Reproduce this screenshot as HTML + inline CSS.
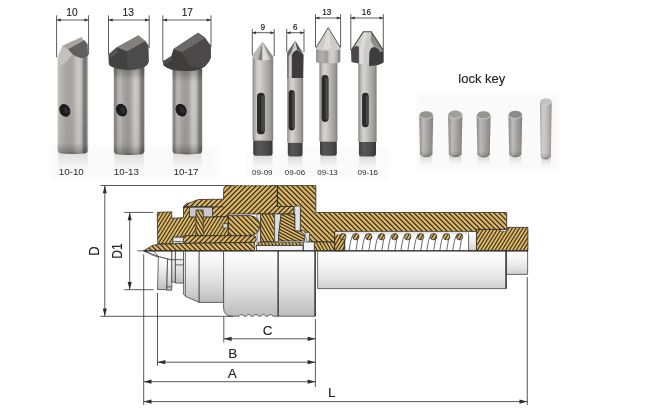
<!DOCTYPE html>
<html lang="en"><head><meta charset="utf-8"><title>Live center interchangeable points - dimensions</title>
<style>html,body{margin:0;padding:0;background:#fff;}body{width:650px;height:409px;overflow:hidden;}svg{display:block;will-change:transform;}text{font-family:"Liberation Sans", Arial, Helvetica, sans-serif;}</style>
</head><body>
<svg width="650" height="409" viewBox="0 0 650 409">
<defs>
<linearGradient id="steel" x1="0" x2="1" y1="0" y2="0" ><stop offset="0" stop-color="#8a8887"/><stop offset="0.08" stop-color="#8e8c8b"/><stop offset="0.13" stop-color="#b0aeac"/><stop offset="0.22" stop-color="#b9b7b5"/><stop offset="0.3" stop-color="#a8a6a4"/><stop offset="0.45" stop-color="#9c9a99"/><stop offset="0.56" stop-color="#a7a5a3"/><stop offset="0.64" stop-color="#c4c1bd"/><stop offset="0.72" stop-color="#cdc9c4"/><stop offset="0.8" stop-color="#c0bdb9"/><stop offset="0.86" stop-color="#9a9896"/><stop offset="0.91" stop-color="#7c7a78"/><stop offset="0.97" stop-color="#787675"/><stop offset="1" stop-color="#8f8d8c"/></linearGradient>
<linearGradient id="steelA" x1="0" x2="1" y1="0" y2="0" ><stop offset="0" stop-color="#c9c4c0"/><stop offset="0.1" stop-color="#bab5b1"/><stop offset="0.3" stop-color="#a6a3a1"/><stop offset="0.48" stop-color="#a8a6a4"/><stop offset="0.58" stop-color="#bcbab7"/><stop offset="0.68" stop-color="#cdcbc7"/><stop offset="0.78" stop-color="#bdbbb8"/><stop offset="0.84" stop-color="#858280"/><stop offset="0.92" stop-color="#6f6c6a"/><stop offset="0.96" stop-color="#a09e9c"/><stop offset="1" stop-color="#cfcdcb"/></linearGradient>
<linearGradient id="steel2" x1="0" x2="1" y1="0" y2="0" ><stop offset="0" stop-color="#848382"/><stop offset="0.07" stop-color="#9e9d9c"/><stop offset="0.18" stop-color="#c6c5c4"/><stop offset="0.33" stop-color="#d4d3d2"/><stop offset="0.5" stop-color="#c2c1c0"/><stop offset="0.68" stop-color="#adacab"/><stop offset="0.84" stop-color="#9e9d9c"/><stop offset="0.94" stop-color="#8a8988"/><stop offset="1" stop-color="#7e7d7c"/></linearGradient>
<linearGradient id="steelh" x1="0" x2="1" y1="0" y2="0" ><stop offset="0" stop-color="#7e7d7c"/><stop offset="0.07" stop-color="#a3a2a1"/><stop offset="0.28" stop-color="#b0afae"/><stop offset="0.45" stop-color="#9a9998"/><stop offset="0.55" stop-color="#c9c8c7"/><stop offset="0.7" stop-color="#d0cfce"/><stop offset="0.85" stop-color="#b5b4b3"/><stop offset="0.95" stop-color="#868584"/><stop offset="1" stop-color="#7c7b7a"/></linearGradient>
<linearGradient id="dark" x1="0" x2="1" y1="0" y2="0" ><stop offset="0" stop-color="#3c3c3c"/><stop offset="0.25" stop-color="#565656"/><stop offset="0.7" stop-color="#4c4c4c"/><stop offset="1" stop-color="#363636"/></linearGradient>
<linearGradient id="pin" x1="0" x2="1" y1="0" y2="0" ><stop offset="0" stop-color="#858381"/><stop offset="0.1" stop-color="#9f9d9b"/><stop offset="0.3" stop-color="#bdbbb9"/><stop offset="0.5" stop-color="#adaba9"/><stop offset="0.75" stop-color="#999795"/><stop offset="0.92" stop-color="#8c8a88"/><stop offset="1" stop-color="#7e7c7a"/></linearGradient>
<linearGradient id="pin5" x1="0" x2="1" y1="0" y2="0" ><stop offset="0" stop-color="#9c9a98"/><stop offset="0.2" stop-color="#cfcdcb"/><stop offset="0.5" stop-color="#c6c4c2"/><stop offset="0.8" stop-color="#adaba9"/><stop offset="1" stop-color="#908e8c"/></linearGradient>
<linearGradient id="refl" x1="0" x2="0" y1="0" y2="1" ><stop offset="0" stop-color="#d6d6d6" stop-opacity="0.95"/><stop offset="0.45" stop-color="#e6e6e6" stop-opacity="0.6"/><stop offset="1" stop-color="#ffffff" stop-opacity="0"/></linearGradient>
<linearGradient id="shade" x1="0" x2="0" y1="0" y2="1" ><stop offset="0" stop-color="#000" stop-opacity="0"/><stop offset="0.8" stop-color="#000" stop-opacity="0.04"/><stop offset="0.95" stop-color="#000" stop-opacity="0.25"/><stop offset="1" stop-color="#000" stop-opacity="0.4"/></linearGradient>
<linearGradient id="pshade" x1="0" x2="0" y1="0" y2="1" ><stop offset="0" stop-color="#000" stop-opacity="0"/><stop offset="0.6" stop-color="#000" stop-opacity="0.1"/><stop offset="1" stop-color="#000" stop-opacity="0.35"/></linearGradient>
<linearGradient id="topsh" x1="0" x2="0" y1="0" y2="1" ><stop offset="0" stop-color="#000" stop-opacity="0.28"/><stop offset="1" stop-color="#000" stop-opacity="0"/></linearGradient>
<linearGradient id="bodyg" x1="0" x2="0" y1="0" y2="1" ><stop offset="0" stop-color="#ffffff"/><stop offset="0.25" stop-color="#f5f4f5"/><stop offset="0.55" stop-color="#e3e2e3"/><stop offset="0.8" stop-color="#cfcecf"/><stop offset="1" stop-color="#bdbcbd"/></linearGradient>
<linearGradient id="shaftg" x1="0" x2="0" y1="0" y2="1" ><stop offset="0" stop-color="#ffffff"/><stop offset="0.3" stop-color="#f8f7f8"/><stop offset="0.7" stop-color="#e6e5e6"/><stop offset="1" stop-color="#cfcecf"/></linearGradient>
<pattern id="h1" patternUnits="userSpaceOnUse" x="140" y="182" width="392" height="72"><rect width="392" height="72" fill="#dcb763"/><path d="M-77,72L-5,0M-72,72L0,0M-67,72L5,0M-62,72L10,0M-57,72L15,0M-52,72L20,0M-47,72L25,0M-42,72L30,0M-37,72L35,0M-32,72L40,0M-27,72L45,0M-22,72L50,0M-17,72L55,0M-12,72L60,0M-7,72L65,0M-2,72L70,0M3,72L75,0M8,72L80,0M13,72L85,0M18,72L90,0M23,72L95,0M28,72L100,0M33,72L105,0M38,72L110,0M43,72L115,0M48,72L120,0M53,72L125,0M58,72L130,0M63,72L135,0M68,72L140,0M73,72L145,0M78,72L150,0M83,72L155,0M88,72L160,0M93,72L165,0M98,72L170,0M103,72L175,0M108,72L180,0M113,72L185,0M118,72L190,0M123,72L195,0M128,72L200,0M133,72L205,0M138,72L210,0M143,72L215,0M148,72L220,0M153,72L225,0M158,72L230,0M163,72L235,0M168,72L240,0M173,72L245,0M178,72L250,0M183,72L255,0M188,72L260,0M193,72L265,0M198,72L270,0M203,72L275,0M208,72L280,0M213,72L285,0M218,72L290,0M223,72L295,0M228,72L300,0M233,72L305,0M238,72L310,0M243,72L315,0M248,72L320,0M253,72L325,0M258,72L330,0M263,72L335,0M268,72L340,0M273,72L345,0M278,72L350,0M283,72L355,0M288,72L360,0M293,72L365,0M298,72L370,0M303,72L375,0M308,72L380,0M313,72L385,0M318,72L390,0M323,72L395,0M328,72L400,0M333,72L405,0M338,72L410,0M343,72L415,0M348,72L420,0M353,72L425,0M358,72L430,0M363,72L435,0M368,72L440,0M373,72L445,0M378,72L450,0M383,72L455,0M388,72L460,0M393,72L465,0M398,72L470,0M403,72L475,0M408,72L480,0M413,72L485,0M418,72L490,0M423,72L495,0M428,72L500,0M433,72L505,0M438,72L510,0M443,72L515,0M448,72L520,0M453,72L525,0M458,72L530,0M463,72L535,0M468,72L540,0" stroke="#33291a" stroke-width="1.15" fill="none"/></pattern>
<pattern id="h2" patternUnits="userSpaceOnUse" x="140" y="182" width="392" height="72"><rect width="392" height="72" fill="#dcb763"/><path d="M-77,0L-5,72M-72,0L0,72M-67,0L5,72M-62,0L10,72M-57,0L15,72M-52,0L20,72M-47,0L25,72M-42,0L30,72M-37,0L35,72M-32,0L40,72M-27,0L45,72M-22,0L50,72M-17,0L55,72M-12,0L60,72M-7,0L65,72M-2,0L70,72M3,0L75,72M8,0L80,72M13,0L85,72M18,0L90,72M23,0L95,72M28,0L100,72M33,0L105,72M38,0L110,72M43,0L115,72M48,0L120,72M53,0L125,72M58,0L130,72M63,0L135,72M68,0L140,72M73,0L145,72M78,0L150,72M83,0L155,72M88,0L160,72M93,0L165,72M98,0L170,72M103,0L175,72M108,0L180,72M113,0L185,72M118,0L190,72M123,0L195,72M128,0L200,72M133,0L205,72M138,0L210,72M143,0L215,72M148,0L220,72M153,0L225,72M158,0L230,72M163,0L235,72M168,0L240,72M173,0L245,72M178,0L250,72M183,0L255,72M188,0L260,72M193,0L265,72M198,0L270,72M203,0L275,72M208,0L280,72M213,0L285,72M218,0L290,72M223,0L295,72M228,0L300,72M233,0L305,72M238,0L310,72M243,0L315,72M248,0L320,72M253,0L325,72M258,0L330,72M263,0L335,72M268,0L340,72M273,0L345,72M278,0L350,72M283,0L355,72M288,0L360,72M293,0L365,72M298,0L370,72M303,0L375,72M308,0L380,72M313,0L385,72M318,0L390,72M323,0L395,72M328,0L400,72M333,0L405,72M338,0L410,72M343,0L415,72M348,0L420,72M353,0L425,72M358,0L430,72M363,0L435,72M368,0L440,72M373,0L445,72M378,0L450,72M383,0L455,72M388,0L460,72M393,0L465,72M398,0L470,72M403,0L475,72M408,0L480,72M413,0L485,72M418,0L490,72M423,0L495,72M428,0L500,72M433,0L505,72M438,0L510,72M443,0L515,72M448,0L520,72M453,0L525,72M458,0L530,72M463,0L535,72M468,0L540,72" stroke="#33291a" stroke-width="1.15" fill="none"/></pattern>
<pattern id="h3" patternUnits="userSpaceOnUse" x="140" y="182" width="392" height="72"><rect width="392" height="72" fill="#dcb763"/><path d="M-48.5,72L-3.5,0M-45,72L0,0M-41.4,72L3.5,0M-37.9,72L7.1,0M-34.3,72L10.6,0M-30.8,72L14.2,0M-27.2,72L17.7,0M-23.7,72L21.3,0M-20.1,72L24.8,0M-16.6,72L28.4,0M-13,72L31.9,0M-9.5,72L35.5,0M-5.9,72L39,0M-2.4,72L42.6,0M1.2,72L46.1,0M4.7,72L49.7,0M8.3,72L53.2,0M11.8,72L56.8,0M15.4,72L60.3,0M18.9,72L63.9,0M22.5,72L67.5,0M26,72L71,0M29.6,72L74.5,0M33.1,72L78.1,0M36.7,72L81.7,0M40.2,72L85.2,0M43.8,72L88.8,0M47.3,72L92.3,0M50.9,72L95.8,0M54.4,72L99.4,0M58,72L102.9,0M61.5,72L106.5,0M65.1,72L110,0M68.6,72L113.6,0M72.2,72L117.1,0M75.7,72L120.7,0M79.3,72L124.2,0M82.8,72L127.8,0M86.4,72L131.3,0M89.9,72L134.9,0M93.5,72L138.4,0M97,72L142,0M100.6,72L145.5,0M104.1,72L149.1,0M107.7,72L152.6,0M111.2,72L156.2,0M114.8,72L159.7,0M118.3,72L163.3,0M121.9,72L166.8,0M125.4,72L170.4,0M129,72L173.9,0M132.5,72L177.5,0M136.1,72L181,0M139.6,72L184.6,0M143.2,72L188.1,0M146.7,72L191.7,0M150.3,72L195.2,0M153.8,72L198.8,0M157.4,72L202.4,0M160.9,72L205.9,0M164.5,72L209.5,0M168,72L213,0M171.6,72L216.6,0M175.1,72L220.1,0M178.7,72L223.7,0M182.2,72L227.2,0M185.8,72L230.8,0M189.3,72L234.3,0M192.9,72L237.9,0M196.4,72L241.4,0M200,72L245,0M203.5,72L248.5,0M207.1,72L252.1,0M210.6,72L255.6,0M214.2,72L259.2,0M217.7,72L262.7,0M221.3,72L266.3,0M224.8,72L269.8,0M228.4,72L273.4,0M231.9,72L276.9,0M235.5,72L280.5,0M239,72L284,0M242.6,72L287.6,0M246.1,72L291.1,0M249.7,72L294.7,0M253.2,72L298.2,0M256.8,72L301.8,0M260.3,72L305.3,0M263.9,72L308.9,0M267.4,72L312.4,0M271,72L316,0M274.5,72L319.5,0M278.1,72L323.1,0M281.6,72L326.6,0M285.2,72L330.2,0M288.7,72L333.7,0M292.3,72L337.3,0M295.8,72L340.8,0M299.4,72L344.4,0M302.9,72L347.9,0M306.5,72L351.5,0M310,72L355,0M313.6,72L358.6,0M317.1,72L362.1,0M320.7,72L365.7,0M324.2,72L369.2,0M327.8,72L372.8,0M331.3,72L376.3,0M334.9,72L379.9,0M338.4,72L383.4,0M342,72L387,0M345.5,72L390.5,0M349.1,72L394.1,0M352.6,72L397.6,0M356.2,72L401.2,0M359.7,72L404.7,0M363.3,72L408.3,0M366.8,72L411.8,0M370.4,72L415.4,0M373.9,72L418.9,0M377.5,72L422.5,0M381,72L426,0M384.6,72L429.6,0M388.1,72L433.1,0M391.7,72L436.7,0M395.2,72L440.2,0M398.8,72L443.8,0M402.3,72L447.3,0M405.9,72L450.9,0M409.4,72L454.4,0M413,72L458,0M416.5,72L461.5,0M420.1,72L465.1,0M423.6,72L468.6,0M427.2,72L472.2,0M430.7,72L475.7,0M434.3,72L479.3,0M437.8,72L482.8,0" stroke="#33291a" stroke-width="1.05" fill="none"/></pattern>
<pattern id="h4" patternUnits="userSpaceOnUse" x="140" y="182" width="392" height="72"><rect width="392" height="72" fill="#dcb763"/><path d="M-45,0L-3.5,72M-41.6,0L0,72M-38.1,0L3.5,72M-34.7,0L6.9,72M-31.2,0L10.4,72M-27.8,0L13.8,72M-24.3,0L17.3,72M-20.9,0L20.7,72M-17.4,0L24.2,72M-14,0L27.6,72M-10.5,0L31.1,72M-7.1,0L34.5,72M-3.6,0L38,72M-0.2,0L41.4,72M3.3,0L44.9,72M6.7,0L48.3,72M10.2,0L51.8,72M13.6,0L55.2,72M17.1,0L58.7,72M20.5,0L62.1,72M24,0L65.5,72M27.4,0L69,72M30.9,0L72.5,72M34.3,0L75.9,72M37.8,0L79.3,72M41.2,0L82.8,72M44.7,0L86.2,72M48.1,0L89.7,72M51.6,0L93.2,72M55,0L96.6,72M58.5,0L100.1,72M61.9,0L103.5,72M65.4,0L107,72M68.8,0L110.4,72M72.3,0L113.9,72M75.7,0L117.3,72M79.2,0L120.8,72M82.6,0L124.2,72M86.1,0L127.7,72M89.5,0L131.1,72M93,0L134.6,72M96.4,0L138,72M99.9,0L141.5,72M103.3,0L144.9,72M106.8,0L148.4,72M110.2,0L151.8,72M113.7,0L155.3,72M117.1,0L158.7,72M120.6,0L162.2,72M124,0L165.6,72M127.5,0L169.1,72M130.9,0L172.5,72M134.4,0L176,72M137.8,0L179.4,72M141.3,0L182.9,72M144.7,0L186.3,72M148.2,0L189.8,72M151.6,0L193.2,72M155.1,0L196.6,72M158.5,0L200.1,72M162,0L203.5,72M165.4,0L207,72M168.9,0L210.4,72M172.3,0L213.9,72M175.8,0L217.3,72M179.2,0L220.8,72M182.7,0L224.2,72M186.1,0L227.7,72M189.6,0L231.1,72M193,0L234.6,72M196.5,0L238,72M199.9,0L241.5,72M203.4,0L244.9,72M206.8,0L248.4,72M210.3,0L251.8,72M213.7,0L255.3,72M217.2,0L258.7,72M220.6,0L262.2,72M224.1,0L265.6,72M227.5,0L269.1,72M231,0L272.5,72M234.4,0L276,72M237.9,0L279.4,72M241.3,0L282.9,72M244.8,0L286.3,72M248.2,0L289.8,72M251.7,0L293.2,72M255.1,0L296.7,72M258.6,0L300.1,72M262,0L303.6,72M265.5,0L307,72M268.9,0L310.5,72M272.4,0L313.9,72M275.8,0L317.4,72M279.3,0L320.8,72M282.7,0L324.3,72M286.2,0L327.7,72M289.6,0L331.2,72M293.1,0L334.6,72M296.5,0L338.1,72M300,0L341.5,72M303.4,0L345,72M306.9,0L348.4,72M310.3,0L351.9,72M313.8,0L355.3,72M317.2,0L358.8,72M320.7,0L362.2,72M324.1,0L365.7,72M327.6,0L369.1,72M331,0L372.6,72M334.5,0L376,72M337.9,0L379.5,72M341.4,0L382.9,72M344.8,0L386.4,72M348.3,0L389.8,72M351.7,0L393.3,72M355.2,0L396.7,72M358.6,0L400.2,72M362.1,0L403.6,72M365.5,0L407.1,72M369,0L410.5,72M372.4,0L414,72M375.9,0L417.4,72M379.3,0L420.9,72M382.8,0L424.3,72M386.2,0L427.8,72M389.7,0L431.2,72M393.1,0L434.7,72M396.6,0L438.1,72M400,0L441.6,72M403.5,0L445,72M406.9,0L448.5,72M410.4,0L451.9,72M413.8,0L455.4,72M417.3,0L458.8,72M420.7,0L462.3,72M424.2,0L465.7,72M427.6,0L469.2,72M431.1,0L472.6,72M434.5,0L476.1,72" stroke="#33291a" stroke-width="1.05" fill="none"/></pattern>
<pattern id="h5" patternUnits="userSpaceOnUse" x="140" y="182" width="392" height="72"><rect width="392" height="72" fill="#dcb763"/><path d="M-141.4,0L-6,72M-135.4,0L0,72M-129.4,0L6,72M-123.4,0L12,72M-117.4,0L18,72M-111.4,0L24,72M-105.4,0L30,72M-99.4,0L36,72M-93.4,0L42,72M-87.4,0L48,72M-81.4,0L54,72M-75.4,0L60,72M-69.4,0L66,72M-63.4,0L72,72M-57.4,0L78,72M-51.4,0L84,72M-45.4,0L90,72M-39.4,0L96,72M-33.4,0L102,72M-27.4,0L108,72M-21.4,0L114,72M-15.4,0L120,72M-9.4,0L126,72M-3.4,0L132,72M2.6,0L138,72M8.6,0L144,72M14.6,0L150,72M20.6,0L156,72M26.6,0L162,72M32.6,0L168,72M38.6,0L174,72M44.6,0L180,72M50.6,0L186,72M56.6,0L192,72M62.6,0L198,72M68.6,0L204,72M74.6,0L210,72M80.6,0L216,72M86.6,0L222,72M92.6,0L228,72M98.6,0L234,72M104.6,0L240,72M110.6,0L246,72M116.6,0L252,72M122.6,0L258,72M128.6,0L264,72M134.6,0L270,72M140.6,0L276,72M146.6,0L282,72M152.6,0L288,72M158.6,0L294,72M164.6,0L300,72M170.6,0L306,72M176.6,0L312,72M182.6,0L318,72M188.6,0L324,72M194.6,0L330,72M200.6,0L336,72M206.6,0L342,72M212.6,0L348,72M218.6,0L354,72M224.6,0L360,72M230.6,0L366,72M236.6,0L372,72M242.6,0L378,72M248.6,0L384,72M254.6,0L390,72M260.6,0L396,72M266.6,0L402,72M272.6,0L408,72M278.6,0L414,72M284.6,0L420,72M290.6,0L426,72M296.6,0L432,72M302.6,0L438,72M308.6,0L444,72M314.6,0L450,72M320.6,0L456,72M326.6,0L462,72M332.6,0L468,72M338.6,0L474,72M344.6,0L480,72M350.6,0L486,72M356.6,0L492,72M362.6,0L498,72M368.6,0L504,72M374.6,0L510,72M380.6,0L516,72M386.6,0L522,72M392.6,0L528,72M398.6,0L534,72M404.6,0L540,72M410.6,0L546,72M416.6,0L552,72M422.6,0L558,72M428.6,0L564,72M434.6,0L570,72M440.6,0L576,72M446.6,0L582,72M452.6,0L588,72M458.6,0L594,72M464.6,0L600,72M470.6,0L606,72M476.6,0L612,72M482.6,0L618,72M488.6,0L624,72M494.6,0L630,72M500.6,0L636,72M506.6,0L642,72M512.6,0L648,72M518.6,0L654,72M524.6,0L660,72M530.6,0L666,72" stroke="#33291a" stroke-width="1.1" fill="none"/></pattern>
<filter id="soft" x="-5%" y="-5%" width="110%" height="110%"><feGaussianBlur stdDeviation="0.45"/></filter>
<filter id="soft2" x="-5%" y="-5%" width="110%" height="110%"><feGaussianBlur stdDeviation="1.2"/></filter>
<filter id="soft3" x="-10%" y="-30%" width="120%" height="160%"><feGaussianBlur stdDeviation="3"/></filter>
</defs>
<rect x="0" y="0" width="650" height="409" fill="#ffffff"/>
<rect x="416" y="94" width="143" height="77" fill="#fafafa" filter="url(#soft2)"/>
<rect x="50" y="146" width="168" height="32" fill="#f9f9f9" filter="url(#soft3)"/>
<rect x="248" y="148" width="140" height="30" fill="#fafafa" filter="url(#soft3)"/>
<g id="tips-10">
<g filter="url(#soft)">
<rect x="58.1" y="151.6" width="29.6" height="24" fill="url(#refl)"/>
<path d="M57.6,40 L88.2,40 L88.2,149.6 Q88.2,152.6 85.2,153.2 Q72.9,154.8 60.6,153.2 Q57.6,152.6 57.6,149.6 Z" fill="url(#steelA)"/>
<path d="M57.6,100 L88.2,100 L88.2,149.6 Q88.2,152.6 85.2,153.2 Q72.9,154.8 60.6,153.2 Q57.6,152.6 57.6,149.6 Z" fill="url(#shade)"/>
<polygon points="56,39 90,39 90,44 88.3,44.6 81.5,37 62.5,45.7 57.4,58 56,58" fill="#ffffff"/>
<polygon points="57.5,58 62.5,45.8 67.8,49 72.7,54.3 66,62 60,66" fill="#c6c1bd"/>
<path d="M67.8,49 L83.4,40.6 L87.3,44.4 L88.1,55.5 Q84,58.6 80.3,58 Q75,56.5 72.7,54.3 Z" fill="#606060"/>
<path d="M62.5,45.9 L81.5,37.1 L83.6,40.4 L67.8,49.2 Z" fill="#a8a4a1"/>
<ellipse cx="64.8" cy="110.4" rx="5.3" ry="6.6" fill="#1b1b1f" transform="rotate(-28 64.8 110.4)"/>
<ellipse cx="66.1" cy="111.0" rx="2.2" ry="3.6" fill="#2c2d33" transform="rotate(-28 64.8 110.4)"/>
<rect x="114.3" y="152.6" width="29.6" height="24" fill="url(#refl)"/>
<path d="M113.8,60 L144.4,60 L144.4,150.6 Q144.4,153.6 141.4,154.2 Q129.1,155.8 116.8,154.2 Q113.8,153.6 113.8,150.6 Z" fill="url(#steel)"/>
<path d="M113.8,100 L144.4,100 L144.4,150.6 Q144.4,153.6 141.4,154.2 Q129.1,155.8 116.8,154.2 Q113.8,153.6 113.8,150.6 Z" fill="url(#shade)"/>
<rect x="113.8" y="68" width="30.6" height="12" fill="url(#topsh)"/>
<path d="M108.5,54.5 L116.9,47.2 L138.4,35.4 L145.4,41.3 L148.3,45.5 L148.6,62 Q147,66.5 141.7,68 Q133,70.5 125.5,69.8 Q114,69 109.4,65.5 Q108.4,63 108.5,54.5 Z" fill="#434343"/>
<path d="M127.1,51.3 L145.4,41.3 L148.3,45.5 L148.6,62 Q147,66.5 141.7,68 L128,69.5 Z" fill="#4c4c4c"/>
<path d="M116.9,47.2 L138.4,35.4 L145.4,41.3 L127.1,51.3 Z" fill="#838180"/>
<path d="M108.5,54.5 L116.9,47.2 L118,52.5 L110.5,58 Z" fill="#535353"/>
<ellipse cx="121.5" cy="110.2" rx="5.3" ry="6.6" fill="#1b1b1f" transform="rotate(-28 121.5 110.2)"/>
<ellipse cx="122.8" cy="110.8" rx="2.2" ry="3.6" fill="#2c2d33" transform="rotate(-28 121.5 110.2)"/>
<rect x="173" y="152" width="28.7" height="24" fill="url(#refl)"/>
<path d="M172.5,60 L202.2,60 L202.2,150 Q202.2,153 199.2,153.6 Q187.3,155.2 175.5,153.6 Q172.5,153 172.5,150 Z" fill="url(#steel)"/>
<path d="M172.5,100 L202.2,100 L202.2,150 Q202.2,153 199.2,153.6 Q187.3,155.2 175.5,153.6 Q172.5,153 172.5,150 Z" fill="url(#shade)"/>
<rect x="172.5" y="69" width="29.7" height="13" fill="url(#topsh)"/>
<path d="M162.9,61.5 L171.2,56.2 L173.5,49.1 L198.1,32.7 L204,36.8 L210.5,45.6 L211,57.3 Q209,63 204.6,66.7 Q200,69.8 194,70.8 Q182,71.6 171.7,69.7 Q166,68 163.5,65.6 Z" fill="#3f3e3d"/>
<path d="M181.7,52.2 L205.2,38 L210.5,45.6 L211,57.3 Q209,63 204.6,66.7 L190.5,67 Z" fill="#4b4a49"/>
<path d="M173.5,49.1 L198.1,32.7 L205.2,38 L181.7,52.2 Z" fill="#6b6967"/>
<path d="M162.9,61.5 L171.2,56.2 L172.5,60 L165.5,64.5 Z" fill="#4e4d4c"/>
<ellipse cx="181.1" cy="110.2" rx="5.3" ry="6.6" fill="#1b1b1f" transform="rotate(-28 181.1 110.2)"/>
<ellipse cx="182.4" cy="110.8" rx="2.2" ry="3.6" fill="#2c2d33" transform="rotate(-28 181.1 110.2)"/>
</g>
<line x1="56.6" y1="15.4" x2="56.6" y2="57.5" stroke="#333" stroke-width="0.8"/>
<line x1="88.6" y1="15.4" x2="88.6" y2="54.5" stroke="#333" stroke-width="0.8"/>
<line x1="56.6" y1="20" x2="88.6" y2="20" stroke="#333" stroke-width="0.8"/>
<polygon points="56.6,20 60.8,18.4 60.8,21.6" fill="#333"/>
<polygon points="88.6,20 84.4,18.4 84.4,21.6" fill="#333"/>
<text x="72" y="15.7" font-size="10.2" text-anchor="middle" fill="#222" stroke="#222" stroke-width="0.12" >10</text>
<line x1="108.5" y1="15.4" x2="108.5" y2="54.7" stroke="#333" stroke-width="0.8"/>
<line x1="149.2" y1="15.4" x2="149.2" y2="48" stroke="#333" stroke-width="0.8"/>
<line x1="108.5" y1="20" x2="149.2" y2="20" stroke="#333" stroke-width="0.8"/>
<polygon points="108.5,20 112.7,18.4 112.7,21.6" fill="#333"/>
<polygon points="149.2,20 145,18.4 145,21.6" fill="#333"/>
<text x="128.2" y="15.7" font-size="10.2" text-anchor="middle" fill="#222" stroke="#222" stroke-width="0.12" >13</text>
<line x1="162.8" y1="15.4" x2="162.8" y2="62" stroke="#333" stroke-width="0.8"/>
<line x1="211" y1="15.4" x2="211" y2="47" stroke="#333" stroke-width="0.8"/>
<line x1="162.8" y1="20" x2="211" y2="20" stroke="#333" stroke-width="0.8"/>
<polygon points="162.8,20 167,18.4 167,21.6" fill="#333"/>
<polygon points="211,20 206.8,18.4 206.8,21.6" fill="#333"/>
<text x="187.3" y="15.7" font-size="10.2" text-anchor="middle" fill="#222" stroke="#222" stroke-width="0.12" >17</text>
<text x="71.3" y="174.5" font-size="9.8" text-anchor="middle" fill="#2a2a2a" >10-10</text>
<text x="126.4" y="174.5" font-size="9.8" text-anchor="middle" fill="#2a2a2a" >10-13</text>
<text x="186" y="174.5" font-size="9.8" text-anchor="middle" fill="#2a2a2a" >10-17</text>
</g>
<g id="tips-09">
<g filter="url(#soft)">
<rect x="253.4" y="154.8" width="19" height="18" fill="url(#refl)"/>
<rect x="252.6" y="57" width="20.6" height="83.4" fill="url(#steel2)"/>
<path d="M253.2,140.4 L272.6,140.4 L272.6,153.3 Q272.4,155.8 269.7,155.8 L256.1,155.8 Q253.4,155.8 253.2,153.3 Z" fill="url(#dark)"/>
<rect x="257" y="92.7" width="7.8" height="41.6" rx="3.9" ry="3.9" fill="#2a2a2a"/>
<rect x="261.3" y="95.2" width="3.5" height="36.6" rx="1.8" fill="#474747"/>
<path d="M253,54.6 L262.5,41.8 L273.1,56.6 L273.2,58.5 Q263,62.5 252.6,58.5 Z" fill="#cac9c8"/>
<polygon points="262.5,41.8 262.4,60.6 256.6,59.6" fill="#807f7e"/>
<polygon points="262.5,41.8 268,60 262.4,60.6" fill="#dedddc"/>
<polygon points="262.5,41.8 273.1,56.6 273.2,58.5 270.5,59.5" fill="#8e8d8c"/>
<polygon points="253,54.6 262.5,41.8 258.2,60 252.6,58.5" fill="#b9b8b7"/>
<rect x="288" y="155.6" width="14.4" height="18" fill="url(#refl)"/>
<rect x="287.2" y="76" width="16" height="66.7" fill="url(#steel2)"/>
<path d="M287.8,142.7 L302.6,142.7 L302.6,154.1 Q302.4,156.6 299.7,156.6 L290.7,156.6 Q288,156.6 287.8,154.1 Z" fill="url(#dark)"/>
<rect x="288.6" y="90" width="6" height="40.4" rx="3" ry="3" fill="#2a2a2a"/>
<rect x="291.9" y="92.5" width="2.7" height="35.4" rx="1.4" fill="#474747"/>
<path d="M291.5,78 L291.5,55 Q295,48.5 299,50.5 L303.6,55 L303.2,78 Z" fill="#3d3b3a"/>
<polygon points="287.1,52.5 295.3,40.8 304,55 299,50.5 295,49.5 291.5,55 291.5,78 287.2,78" fill="#c9c8c7"/>
<polygon points="287.1,52.5 295.3,40.8 291,53 288.7,56 288.7,78 287.2,78" fill="#6a6968"/>
<polygon points="295.3,40.8 304,55 299,50.5 297,49.7" fill="#5a5958"/>
<rect x="320.2" y="154.8" width="16.4" height="18" fill="url(#refl)"/>
<rect x="319.4" y="62" width="18" height="79.4" fill="url(#steel2)"/>
<path d="M320,141.4 L336.8,141.4 L336.8,153.3 Q336.6,155.8 333.9,155.8 L322.9,155.8 Q320.2,155.8 320,153.3 Z" fill="url(#dark)"/>
<rect x="321.6" y="75" width="6.8" height="47" rx="3.4" ry="3.4" fill="#2a2a2a"/>
<rect x="325.3" y="77.5" width="3.1" height="42" rx="1.5" fill="#474747"/>
<path d="M316.1,48 L340.3,48 L340.3,61 Q340.3,63 337.4,63.3 L319.4,63.3 Q316.1,63 316.1,61 Z" fill="url(#steelh)"/>
<path d="M315.8,47.5 L328.2,27.4 L340.7,47.5 L340.3,49.6 Q328,52.5 316.1,49.6 Z" fill="#cdcccb"/>
<polygon points="328.2,27.4 331,48.5 323,49.5" fill="#dedddc"/>
<path d="M316,47.8 L328.2,27.6 L340.5,47.8" fill="none" stroke="#625d5d" stroke-width="1.0" stroke-linejoin="round"/>
<rect x="359.1" y="155.6" width="16.7" height="18" fill="url(#refl)"/>
<rect x="358.3" y="60" width="18.3" height="82" fill="url(#steel2)"/>
<path d="M358.9,142 L376,142 L376,154.1 Q375.8,156.6 373.1,156.6 L361.8,156.6 Q359.1,156.6 358.9,154.1 Z" fill="url(#dark)"/>
<rect x="362.1" y="92.7" width="6.5" height="34.6" rx="3.2" ry="3.2" fill="#2a2a2a"/>
<rect x="365.7" y="95.2" width="2.9" height="29.6" rx="1.5" fill="#474747"/>
<path d="M363.3,31.7 L371.3,31.7 L383.6,50.8 L383.6,62.5 Q378,66 369,66 L358.9,63.5 L351.5,62 L351,50.4 Z" fill="#cccbca"/>
<polygon points="364,32 367.5,32 363.5,50 363.5,64.6 360,63.8 360,47" fill="#dddcdb"/>
<polygon points="371.3,31.7 383.6,50.8 380,52 377,47.6 374,46.5 370.5,40" fill="#8e8d8c"/>
<path d="M351,50.4 Q353,47 356.5,45.8 L358.9,46.8 L358.9,63.5 L351.5,62 Z" fill="#4a4a4a"/>
<path d="M369,66 L369.3,53 Q370.3,47.2 374,47 Q378.2,47.4 380,52 L383.6,50.8 L383.6,62.5 Q378,66 369,66 Z" fill="#3c3c3c"/>
<path d="M351.2,50.4 L363.3,31.8 L371.3,31.8 L383.4,50.6" fill="none" stroke="#4c4747" stroke-width="1.1" stroke-linejoin="round"/>
</g>
<line x1="252.3" y1="29" x2="252.3" y2="55.5" stroke="#333" stroke-width="0.8"/>
<line x1="274.2" y1="29" x2="274.2" y2="56" stroke="#333" stroke-width="0.8"/>
<line x1="252.3" y1="32.7" x2="274.2" y2="32.7" stroke="#333" stroke-width="0.8"/>
<polygon points="252.3,32.7 256.1,31.2 256.1,34.2" fill="#333"/>
<polygon points="274.2,32.7 270.4,31.2 270.4,34.2" fill="#333"/>
<text x="262.8" y="29.8" font-size="8.2" text-anchor="middle" fill="#222" stroke="#222" stroke-width="0.18" >9</text>
<line x1="286.7" y1="29" x2="286.7" y2="52" stroke="#333" stroke-width="0.8"/>
<line x1="304" y1="29" x2="304" y2="52" stroke="#333" stroke-width="0.8"/>
<line x1="286.7" y1="32.7" x2="304" y2="32.7" stroke="#333" stroke-width="0.8"/>
<polygon points="286.7,32.7 290.5,31.2 290.5,34.2" fill="#333"/>
<polygon points="304,32.7 300.2,31.2 300.2,34.2" fill="#333"/>
<text x="295.2" y="29.8" font-size="8.2" text-anchor="middle" fill="#222" stroke="#222" stroke-width="0.18" >6</text>
<line x1="315.5" y1="14.2" x2="315.5" y2="47" stroke="#333" stroke-width="0.8"/>
<line x1="340.6" y1="14.2" x2="340.6" y2="47" stroke="#333" stroke-width="0.8"/>
<line x1="315.5" y1="18" x2="340.6" y2="18" stroke="#333" stroke-width="0.8"/>
<polygon points="315.5,18 319.3,16.5 319.3,19.5" fill="#333"/>
<polygon points="340.6,18 336.8,16.5 336.8,19.5" fill="#333"/>
<text x="326.7" y="15.1" font-size="8.2" text-anchor="middle" fill="#222" stroke="#222" stroke-width="0.18" >13</text>
<line x1="350.8" y1="14.2" x2="350.8" y2="50" stroke="#333" stroke-width="0.8"/>
<line x1="383.3" y1="14.2" x2="383.3" y2="50" stroke="#333" stroke-width="0.8"/>
<line x1="350.8" y1="18" x2="383.3" y2="18" stroke="#333" stroke-width="0.8"/>
<polygon points="350.8,18 354.6,16.5 354.6,19.5" fill="#333"/>
<polygon points="383.3,18 379.5,16.5 379.5,19.5" fill="#333"/>
<text x="366.4" y="15.1" font-size="8.2" text-anchor="middle" fill="#222" stroke="#222" stroke-width="0.18" >16</text>
<text x="262.3" y="174.8" font-size="8" text-anchor="middle" fill="#2a2a2a" >09-09</text>
<text x="295" y="174.8" font-size="8" text-anchor="middle" fill="#2a2a2a" >09-06</text>
<text x="327.6" y="174.8" font-size="8" text-anchor="middle" fill="#2a2a2a" >09-13</text>
<text x="367.8" y="174.8" font-size="8" text-anchor="middle" fill="#2a2a2a" >09-16</text>
</g>
<g id="lock-key">
<text x="481.8" y="82.8" font-size="13" text-anchor="middle" fill="#222" stroke="#222" stroke-width="0.12" >lock key</text>
<g filter="url(#soft)">
<rect x="420.2" y="156.2" width="12" height="12" fill="url(#refl)"/>
<path d="M419.2,114.8 L433.2,114.8 L432.4,154.7 Q426.2,159.7 420,154.7 Z" fill="url(#pin)"/>
<path d="M419.7,150.2 L432.7,150.2 L432.4,154.7 Q426.2,159.7 420,154.7 Z" fill="url(#pshade)"/>
<ellipse cx="426.2" cy="115.3" rx="7" ry="3.9" fill="#cfcdcb"/>
<ellipse cx="426.2" cy="114.8" rx="6.5" ry="3.6" fill="#98948f"/>
<rect x="449.1" y="156.2" width="12.3" height="12" fill="url(#refl)"/>
<path d="M448.1,114.3 L462.4,114.3 L461.6,154.7 Q455.2,159.7 448.9,154.7 Z" fill="url(#pin)"/>
<path d="M448.6,150.2 L461.9,150.2 L461.6,154.7 Q455.2,159.7 448.9,154.7 Z" fill="url(#pshade)"/>
<ellipse cx="455.2" cy="114.8" rx="7.1" ry="4" fill="#cfcdcb"/>
<ellipse cx="455.2" cy="114.3" rx="6.6" ry="3.7" fill="#a29e9b"/>
<rect x="477.6" y="156.6" width="12" height="12" fill="url(#refl)"/>
<path d="M476.6,114.9 L490.6,114.9 L489.8,155.1 Q483.6,160.1 477.4,155.1 Z" fill="url(#pin)"/>
<path d="M477.1,150.6 L490.1,150.6 L489.8,155.1 Q483.6,160.1 477.4,155.1 Z" fill="url(#pshade)"/>
<ellipse cx="483.6" cy="115.4" rx="7" ry="3.9" fill="#cfcdcb"/>
<ellipse cx="483.6" cy="114.9" rx="6.5" ry="3.6" fill="#98948f"/>
<rect x="509.4" y="156.2" width="11.8" height="12" fill="url(#refl)"/>
<path d="M508.4,114.4 L522.2,114.4 L521.4,154.7 Q515.3,159.7 509.2,154.7 Z" fill="url(#pin)"/>
<path d="M508.9,150.2 L521.7,150.2 L521.4,154.7 Q515.3,159.7 509.2,154.7 Z" fill="url(#pshade)"/>
<ellipse cx="515.3" cy="114.9" rx="6.9" ry="3.9" fill="#cfcdcb"/>
<ellipse cx="515.3" cy="114.4" rx="6.4" ry="3.6" fill="#8e8a87"/>
<rect x="541" y="158.4" width="9.7" height="12" fill="url(#refl)"/>
<path d="M540,101.4 L551.7,101.4 L550.9,156.9 Q545.9,161.9 540.8,156.9 Z" fill="url(#pin5)"/>
<path d="M540.5,152.4 L551.2,152.4 L550.9,156.9 Q545.9,161.9 540.8,156.9 Z" fill="url(#pshade)"/>
<ellipse cx="545.9" cy="101.9" rx="5.9" ry="3.3" fill="#cfcdcb"/>
<ellipse cx="545.9" cy="101.4" rx="5.4" ry="3" fill="#c4c2c0"/>
</g>
</g>
<g id="section-drawing">
<path d="M143.7,250.8 L159,256.7 L171.8,260 L171.8,250.8 Z" fill="#fbfbfb" stroke="#3c3c3c" stroke-width="0.75" stroke-linejoin="round"/>
<path d="M143.7,250.8 Q152,255.5 158.6,257.2 Q156.5,253.5 153,250.8" fill="none" stroke="#2b2b2b" stroke-width="0.7"/>
<path d="M158.4,256.6 L167.6,259 L166.8,289.6 L157.5,289.6 Z" fill="url(#bodyg)" stroke="#3c3c3c" stroke-width="0.75" stroke-linejoin="round"/>
<path d="M167.6,259 L171.8,260 L171.8,290.2 L166.8,290.2 Z" fill="url(#bodyg)" stroke="#3c3c3c" stroke-width="0.75" stroke-linejoin="round"/>
<line x1="166.8" y1="286.8" x2="171.8" y2="286.8" stroke="#2b2b2b" stroke-width="0.7"/>
<path d="M171.8,250.8 L175.4,250.8 L175.4,282.1 L171.8,282.1 Z" fill="url(#bodyg)" stroke="#3c3c3c" stroke-width="0.75" stroke-linejoin="round"/>
<path d="M175.4,250.8 L183.6,250.8 L183.6,283.1 L175.4,283.1 Z" fill="url(#bodyg)" stroke="#3c3c3c" stroke-width="0.75" stroke-linejoin="round"/>
<line x1="171.8" y1="259.7" x2="183.6" y2="259.7" stroke="#2b2b2b" stroke-width="0.7"/>
<line x1="175.4" y1="264.9" x2="183.6" y2="264.9" stroke="#2b2b2b" stroke-width="0.7"/>
<path d="M183.6,250.8 L199.2,250.8 L199.2,302.4 L185.5,296.4 L183.6,294.3 Z" fill="url(#bodyg)" stroke="#3c3c3c" stroke-width="0.75" stroke-linejoin="round"/>
<line x1="185.5" y1="250.8" x2="185.5" y2="296.4" stroke="#555" stroke-width="0.7"/>
<path d="M199.2,250.8 L223.6,250.8 L223.6,302.4 L199.2,302.4 Z" fill="url(#bodyg)" stroke="#3c3c3c" stroke-width="0.75" stroke-linejoin="round"/>
<path d="M223.6,250.8 L315.4,250.8 L315.4,316.2 L273,316.2 q-1.2,-1.6 -2.6,-1.6 q-1.4,0 -2.6,1.6 l-2,0 q-1.2,-1.6 -2.6,-1.6 q-1.4,0 -2.6,1.6 l-2,0 q-1.2,-1.6 -2.6,-1.6 q-1.4,0 -2.6,1.6 l-2,0 q-1.2,-1.6 -2.6,-1.6 q-1.4,0 -2.6,1.6 l-2,0 q-1.2,-1.6 -2.6,-1.6 q-1.4,0 -2.6,1.6 l-2,0 L231,316.2 Q223.6,315.5 223.6,308 Z" fill="url(#bodyg)" stroke="#3c3c3c" stroke-width="0.75" stroke-linejoin="round"/>
<line x1="278.1" y1="250.8" x2="278.1" y2="316.2" stroke="#2b2b2b" stroke-width="1.3"/>
<line x1="315" y1="250.8" x2="315" y2="316.2" stroke="#2b2b2b" stroke-width="1.2"/>
<path d="M317.6,250.8 L506.3,250.8 L506.3,288.6 L317.6,288.6 Z" fill="url(#shaftg)" stroke="#3c3c3c" stroke-width="0.75" stroke-linejoin="round"/>
<path d="M506.3,250.8 L527.6,250.8 L527.6,274.4 L506.3,274.4 Z" fill="url(#shaftg)" stroke="#3c3c3c" stroke-width="0.75" stroke-linejoin="round"/>
<line x1="506" y1="250.8" x2="506" y2="288.6" stroke="#2b2b2b" stroke-width="1.2"/>
<rect x="334.9" y="231.4" width="141.5" height="19.4" fill="#ffffff" stroke="#2b2b2b" stroke-width="0.7"/>
<path d="M476.4,229.4 L506.7,229.4 L506.7,227.4 L527.9,227.4 L527.9,250.8 L476.4,250.8 Z" fill="url(#h3)" stroke="#2b2b2b" stroke-width="0.8" stroke-linejoin="round"/>
<rect x="468.7" y="230" width="7.6" height="20.8" fill="url(#shaftg)" stroke="#2b2b2b" stroke-width="0.7"/>
<path d="M277.4,185.6 L315.8,185.6 L315.8,212.5 L506.7,212.5 L506.7,229.4 L476.4,229.4 L476.4,231.4 L334.9,231.4 L334.9,242 L309.4,242 L309.4,232.4 L304.7,232.4 L304.7,231 L300.2,231 L300.2,206.5 L277.4,206.5 Z" fill="url(#h2)" stroke="#2b2b2b" stroke-width="0.8" stroke-linejoin="round"/>
<rect x="501" y="229.8" width="5.7" height="1.7" fill="#e6e6e6" stroke="#2b2b2b" stroke-width="0.5"/>
<path d="M314.3,242 L334.7,242 L334.7,250.8 L314.3,250.8 Z" fill="url(#h4)" stroke="#2b2b2b" stroke-width="0.8" stroke-linejoin="round"/>
<path d="M334.7,232 L344.8,232 L344.8,250.8 L334.7,250.8 Z" fill="url(#h3)" stroke="#2b2b2b" stroke-width="0.8" stroke-linejoin="round"/>
<rect x="303.6" y="242" width="10.6" height="8.8" fill="#f4f4f4" stroke="#2b2b2b" stroke-width="0.7"/>
<path d="M304.9,232.6 L309.4,232.6 L309.4,241.4 L307,241.4 Z" fill="#e4e4e6" stroke="#3c3c3c" stroke-width="0.6" stroke-linejoin="round"/>
<rect x="335.2" y="231.8" width="133.3" height="2.6" fill="#e4e4e6"/>
<path d="M344.7,239.6 L343.9,250.8" fill="none" stroke="#2b2b2b" stroke-width="0.7"/>
<circle cx="342.9" cy="236.7" r="3.2" fill="url(#h3)" stroke="#2b2b2b" stroke-width="0.7"/>
<path d="M353.3,234.4 Q350.7,238 349,250.8 M357.7,239.6 L355.9,250.8" fill="none" stroke="#2b2b2b" stroke-width="0.7"/>
<circle cx="355.9" cy="236.7" r="3.2" fill="url(#h3)" stroke="#2b2b2b" stroke-width="0.7"/>
<path d="M366.2,234.4 Q363.6,238 361.9,250.8 M370.6,239.6 L368.8,250.8" fill="none" stroke="#2b2b2b" stroke-width="0.7"/>
<circle cx="368.8" cy="236.7" r="3.2" fill="url(#h3)" stroke="#2b2b2b" stroke-width="0.7"/>
<path d="M379.2,234.4 Q376.6,238 374.9,250.8 M383.6,239.6 L381.8,250.8" fill="none" stroke="#2b2b2b" stroke-width="0.7"/>
<circle cx="381.8" cy="236.7" r="3.2" fill="url(#h3)" stroke="#2b2b2b" stroke-width="0.7"/>
<path d="M392.2,234.4 Q389.6,238 387.9,250.8 M396.6,239.6 L394.8,250.8" fill="none" stroke="#2b2b2b" stroke-width="0.7"/>
<circle cx="394.8" cy="236.7" r="3.2" fill="url(#h3)" stroke="#2b2b2b" stroke-width="0.7"/>
<path d="M405.1,234.4 Q402.6,238 400.9,250.8 M409.6,239.6 L407.8,250.8" fill="none" stroke="#2b2b2b" stroke-width="0.7"/>
<circle cx="407.8" cy="236.7" r="3.2" fill="url(#h3)" stroke="#2b2b2b" stroke-width="0.7"/>
<path d="M418.1,234.4 Q415.5,238 413.8,250.8 M422.5,239.6 L420.7,250.8" fill="none" stroke="#2b2b2b" stroke-width="0.7"/>
<circle cx="420.7" cy="236.7" r="3.2" fill="url(#h3)" stroke="#2b2b2b" stroke-width="0.7"/>
<path d="M431.1,234.4 Q428.5,238 426.8,250.8 M435.5,239.6 L433.7,250.8" fill="none" stroke="#2b2b2b" stroke-width="0.7"/>
<circle cx="433.7" cy="236.7" r="3.2" fill="url(#h3)" stroke="#2b2b2b" stroke-width="0.7"/>
<path d="M444.1,234.4 Q441.5,238 439.8,250.8 M448.5,239.6 L446.7,250.8" fill="none" stroke="#2b2b2b" stroke-width="0.7"/>
<circle cx="446.7" cy="236.7" r="3.2" fill="url(#h3)" stroke="#2b2b2b" stroke-width="0.7"/>
<path d="M457,234.4 Q454.4,238 452.7,250.8 M461.4,239.6 L459.6,250.8" fill="none" stroke="#2b2b2b" stroke-width="0.7"/>
<circle cx="459.6" cy="236.7" r="3.2" fill="url(#h3)" stroke="#2b2b2b" stroke-width="0.7"/>
<rect x="294.8" y="206" width="5.4" height="25" fill="#e2e2e4" stroke="#2b2b2b" stroke-width="0.6"/>
<path d="M183.5,207 L185.3,204.4 L198.5,199.5 L223.6,199.2 L223.6,190.5 Q223.6,185.6 228.5,185.6 L235,185.6  q0.9,1.3 1.8,0 l1.8,0 q0.9,1.3 1.8,0 l1.8,0 q0.9,1.3 1.8,0 l1.8,0 q0.9,1.3 1.8,0 l1.8,0 q0.9,1.3 1.8,0 l1.8,0 q0.9,1.3 1.8,0 l1.8,0 q0.9,1.3 1.8,0 l1.8,0 q0.9,1.3 1.8,0 l1.8,0 q0.9,1.3 1.8,0 l1.8,0 q0.9,1.3 1.8,0 l1.8,0 L277.4,185.6 L277.4,206.5 L293.7,206.5 L293.7,214 L228.4,214 L228.4,216.6 L212.4,216.6 L212.4,207 Z" fill="url(#h1)" stroke="#2b2b2b" stroke-width="0.8" stroke-linejoin="round"/>
<line x1="277.4" y1="185.6" x2="277.4" y2="206.5" stroke="#2b2b2b" stroke-width="0.9"/>
<path d="M157.2,212.3 L171.8,211.9 L171.8,218.3 L183.5,217.7 L183.5,207 L189.4,207 L189.4,216.9 L212.4,216.9 L228.4,216.6 L228.4,235.8 L183.2,235.8 L183.2,237.2 L173,237.2 L173,243.9 L157.8,243.9 Z" fill="url(#h3)" stroke="#2b2b2b" stroke-width="0.8" stroke-linejoin="round"/>
<line x1="183.5" y1="206.9" x2="223.6" y2="206.9" stroke="#2b2b2b" stroke-width="0.8"/>
<rect x="189.4" y="207.2" width="23" height="9.7" fill="#c9c9cd" stroke="#2b2b2b" stroke-width="0.7"/>
<path d="M196,210 L203.2,210 L203.2,235.8 L196,235.8 Z" fill="url(#h4)" stroke="#2b2b2b" stroke-width="0.8" stroke-linejoin="round"/>
<rect x="223" y="223.8" width="4.4" height="4.2" fill="#d4d4d6" stroke="#2b2b2b" stroke-width="0.6"/>
<rect x="257" y="214" width="3.7" height="36.6" fill="#e1e1e3" stroke="#2b2b2b" stroke-width="0.6"/>
<path d="M228.4,215.6 L250,215.6 Q259.8,217 259.8,225.7 Q259.8,234.5 250,235.7 L228.4,235.7 Z" fill="url(#h2)" stroke="#2b2b2b" stroke-width="0.8" stroke-linejoin="round"/>
<path d="M260.7,214 L274.6,214 L274.6,241.5 L260.7,241.5 Z" fill="url(#h4)" stroke="#2b2b2b" stroke-width="0.8" stroke-linejoin="round"/>
<path d="M274.6,214 L281.1,214 L278.5,236 L278.5,241.5 L274.6,241.5 Z" fill="#dcdcde" stroke="#3c3c3c" stroke-width="0.6" stroke-linejoin="round"/>
<path d="M281.1,214 L294.8,214 L294.8,231 L299,231 Q304.7,232.5 304.7,236.5 L304.7,241 L278.5,241 L278.5,236 Z" fill="url(#h5)" stroke="#2b2b2b" stroke-width="0.8" stroke-linejoin="round"/>
<path d="M183.2,237.2 L183.2,235.8 L255,235.8 Q257.5,239 255,242.3 L183.2,243.3 Z" fill="url(#h1)" stroke="#2b2b2b" stroke-width="0.8" stroke-linejoin="round"/>
<rect x="173" y="237.2" width="10.2" height="4.6" fill="#e6e6e8" stroke="#2b2b2b" stroke-width="0.6"/>
<rect x="176" y="241.8" width="4" height="2.2" fill="#e6e6e8" stroke="#2b2b2b" stroke-width="0.5"/>
<path d="M258.3,242.3 L302.2,242.3 L302.2,245.4 L258.3,245.4 Z" fill="url(#h4)" stroke="#2b2b2b" stroke-width="0.6" stroke-linejoin="round"/>
<rect x="256.4" y="245.6" width="46.6" height="5.2" fill="#f1f1f2" stroke="#2b2b2b" stroke-width="0.7"/>
<path d="M143.7,250.8 L152.5,245.4 L157.6,244.4 L183.2,243.4 L254,242.4 Q256,246 254,250.8 Z" fill="url(#h2)" stroke="#2b2b2b" stroke-width="0.8" stroke-linejoin="round"/>
<line x1="143.7" y1="250.8" x2="527.9" y2="250.8" stroke="#2b2b2b" stroke-width="0.9"/>
<line x1="100.4" y1="185.5" x2="229" y2="185.5" stroke="#2e2e2e" stroke-width="0.8"/>
<line x1="100.4" y1="316.3" x2="233" y2="316.3" stroke="#2e2e2e" stroke-width="0.8"/>
<line x1="104.8" y1="185.5" x2="104.8" y2="316.3" stroke="#2e2e2e" stroke-width="0.8"/>
<polygon points="104.8,185.5 102.8,193.3 106.8,193.3" fill="#2e2e2e"/>
<polygon points="104.8,316.3 102.8,308.5 106.8,308.5" fill="#2e2e2e"/>
<text transform="translate(99.3,251) rotate(-90)" font-size="14" text-anchor="middle" textLength="9.3" lengthAdjust="spacingAndGlyphs" fill="#222" stroke="#222" stroke-width="0.12">D</text>
<line x1="124.2" y1="212.4" x2="153.5" y2="212.4" stroke="#2e2e2e" stroke-width="0.8"/>
<line x1="124.2" y1="289.7" x2="153.5" y2="289.7" stroke="#2e2e2e" stroke-width="0.8"/>
<line x1="129.7" y1="212.4" x2="129.7" y2="289.7" stroke="#2e2e2e" stroke-width="0.8"/>
<polygon points="129.7,212.4 127.6,220.2 131.8,220.2" fill="#2e2e2e"/>
<polygon points="129.7,289.7 127.6,281.9 131.8,281.9" fill="#2e2e2e"/>
<text transform="translate(122.2,251) rotate(-90)" font-size="13.8" text-anchor="middle" textLength="15.4" lengthAdjust="spacingAndGlyphs" fill="#222" stroke="#222" stroke-width="0.12">D1</text>
<line x1="137.5" y1="250.8" x2="143.7" y2="250.8" stroke="#2e2e2e" stroke-width="0.8"/>
<line x1="143.7" y1="254.4" x2="143.7" y2="405" stroke="#2e2e2e" stroke-width="0.8"/>
<line x1="157.5" y1="293" x2="157.5" y2="365.7" stroke="#2e2e2e" stroke-width="0.8"/>
<line x1="223.8" y1="316.3" x2="223.8" y2="342.5" stroke="#2e2e2e" stroke-width="0.8"/>
<line x1="315.4" y1="319" x2="315.4" y2="387" stroke="#2e2e2e" stroke-width="0.8"/>
<line x1="527.3" y1="277" x2="527.3" y2="405" stroke="#2e2e2e" stroke-width="0.8"/>
<line x1="223.8" y1="338.8" x2="315.4" y2="338.8" stroke="#2e2e2e" stroke-width="0.8"/>
<polygon points="223.8,338.8 231.6,336.8 231.6,340.9" fill="#2e2e2e"/>
<polygon points="315.4,338.8 307.6,336.8 307.6,340.9" fill="#2e2e2e"/>
<line x1="157.5" y1="362.2" x2="315.4" y2="362.2" stroke="#2e2e2e" stroke-width="0.8"/>
<polygon points="157.5,362.2 165.3,360.1 165.3,364.2" fill="#2e2e2e"/>
<polygon points="315.4,362.2 307.6,360.1 307.6,364.2" fill="#2e2e2e"/>
<line x1="143.7" y1="381.7" x2="315.4" y2="381.7" stroke="#2e2e2e" stroke-width="0.8"/>
<polygon points="143.7,381.7 151.5,379.6 151.5,383.8" fill="#2e2e2e"/>
<polygon points="315.4,381.7 307.6,379.6 307.6,383.8" fill="#2e2e2e"/>
<line x1="143.7" y1="401.6" x2="527.3" y2="401.6" stroke="#2e2e2e" stroke-width="0.8"/>
<polygon points="143.7,401.6 151.5,399.6 151.5,403.7" fill="#2e2e2e"/>
<polygon points="527.3,401.6 519.5,399.6 519.5,403.7" fill="#2e2e2e"/>
<text x="267.7" y="335" font-size="13.5" text-anchor="middle" fill="#222" stroke="#222" stroke-width="0.12" >C</text>
<text x="232.8" y="357.9" font-size="13.5" text-anchor="middle" fill="#222" stroke="#222" stroke-width="0.12" >B</text>
<text x="232.3" y="378.3" font-size="13.5" text-anchor="middle" fill="#222" stroke="#222" stroke-width="0.12" >A</text>
<text x="331.8" y="396.5" font-size="13.5" text-anchor="middle" fill="#222" stroke="#222" stroke-width="0.12" >L</text>
</g>
</svg>
</body></html>
